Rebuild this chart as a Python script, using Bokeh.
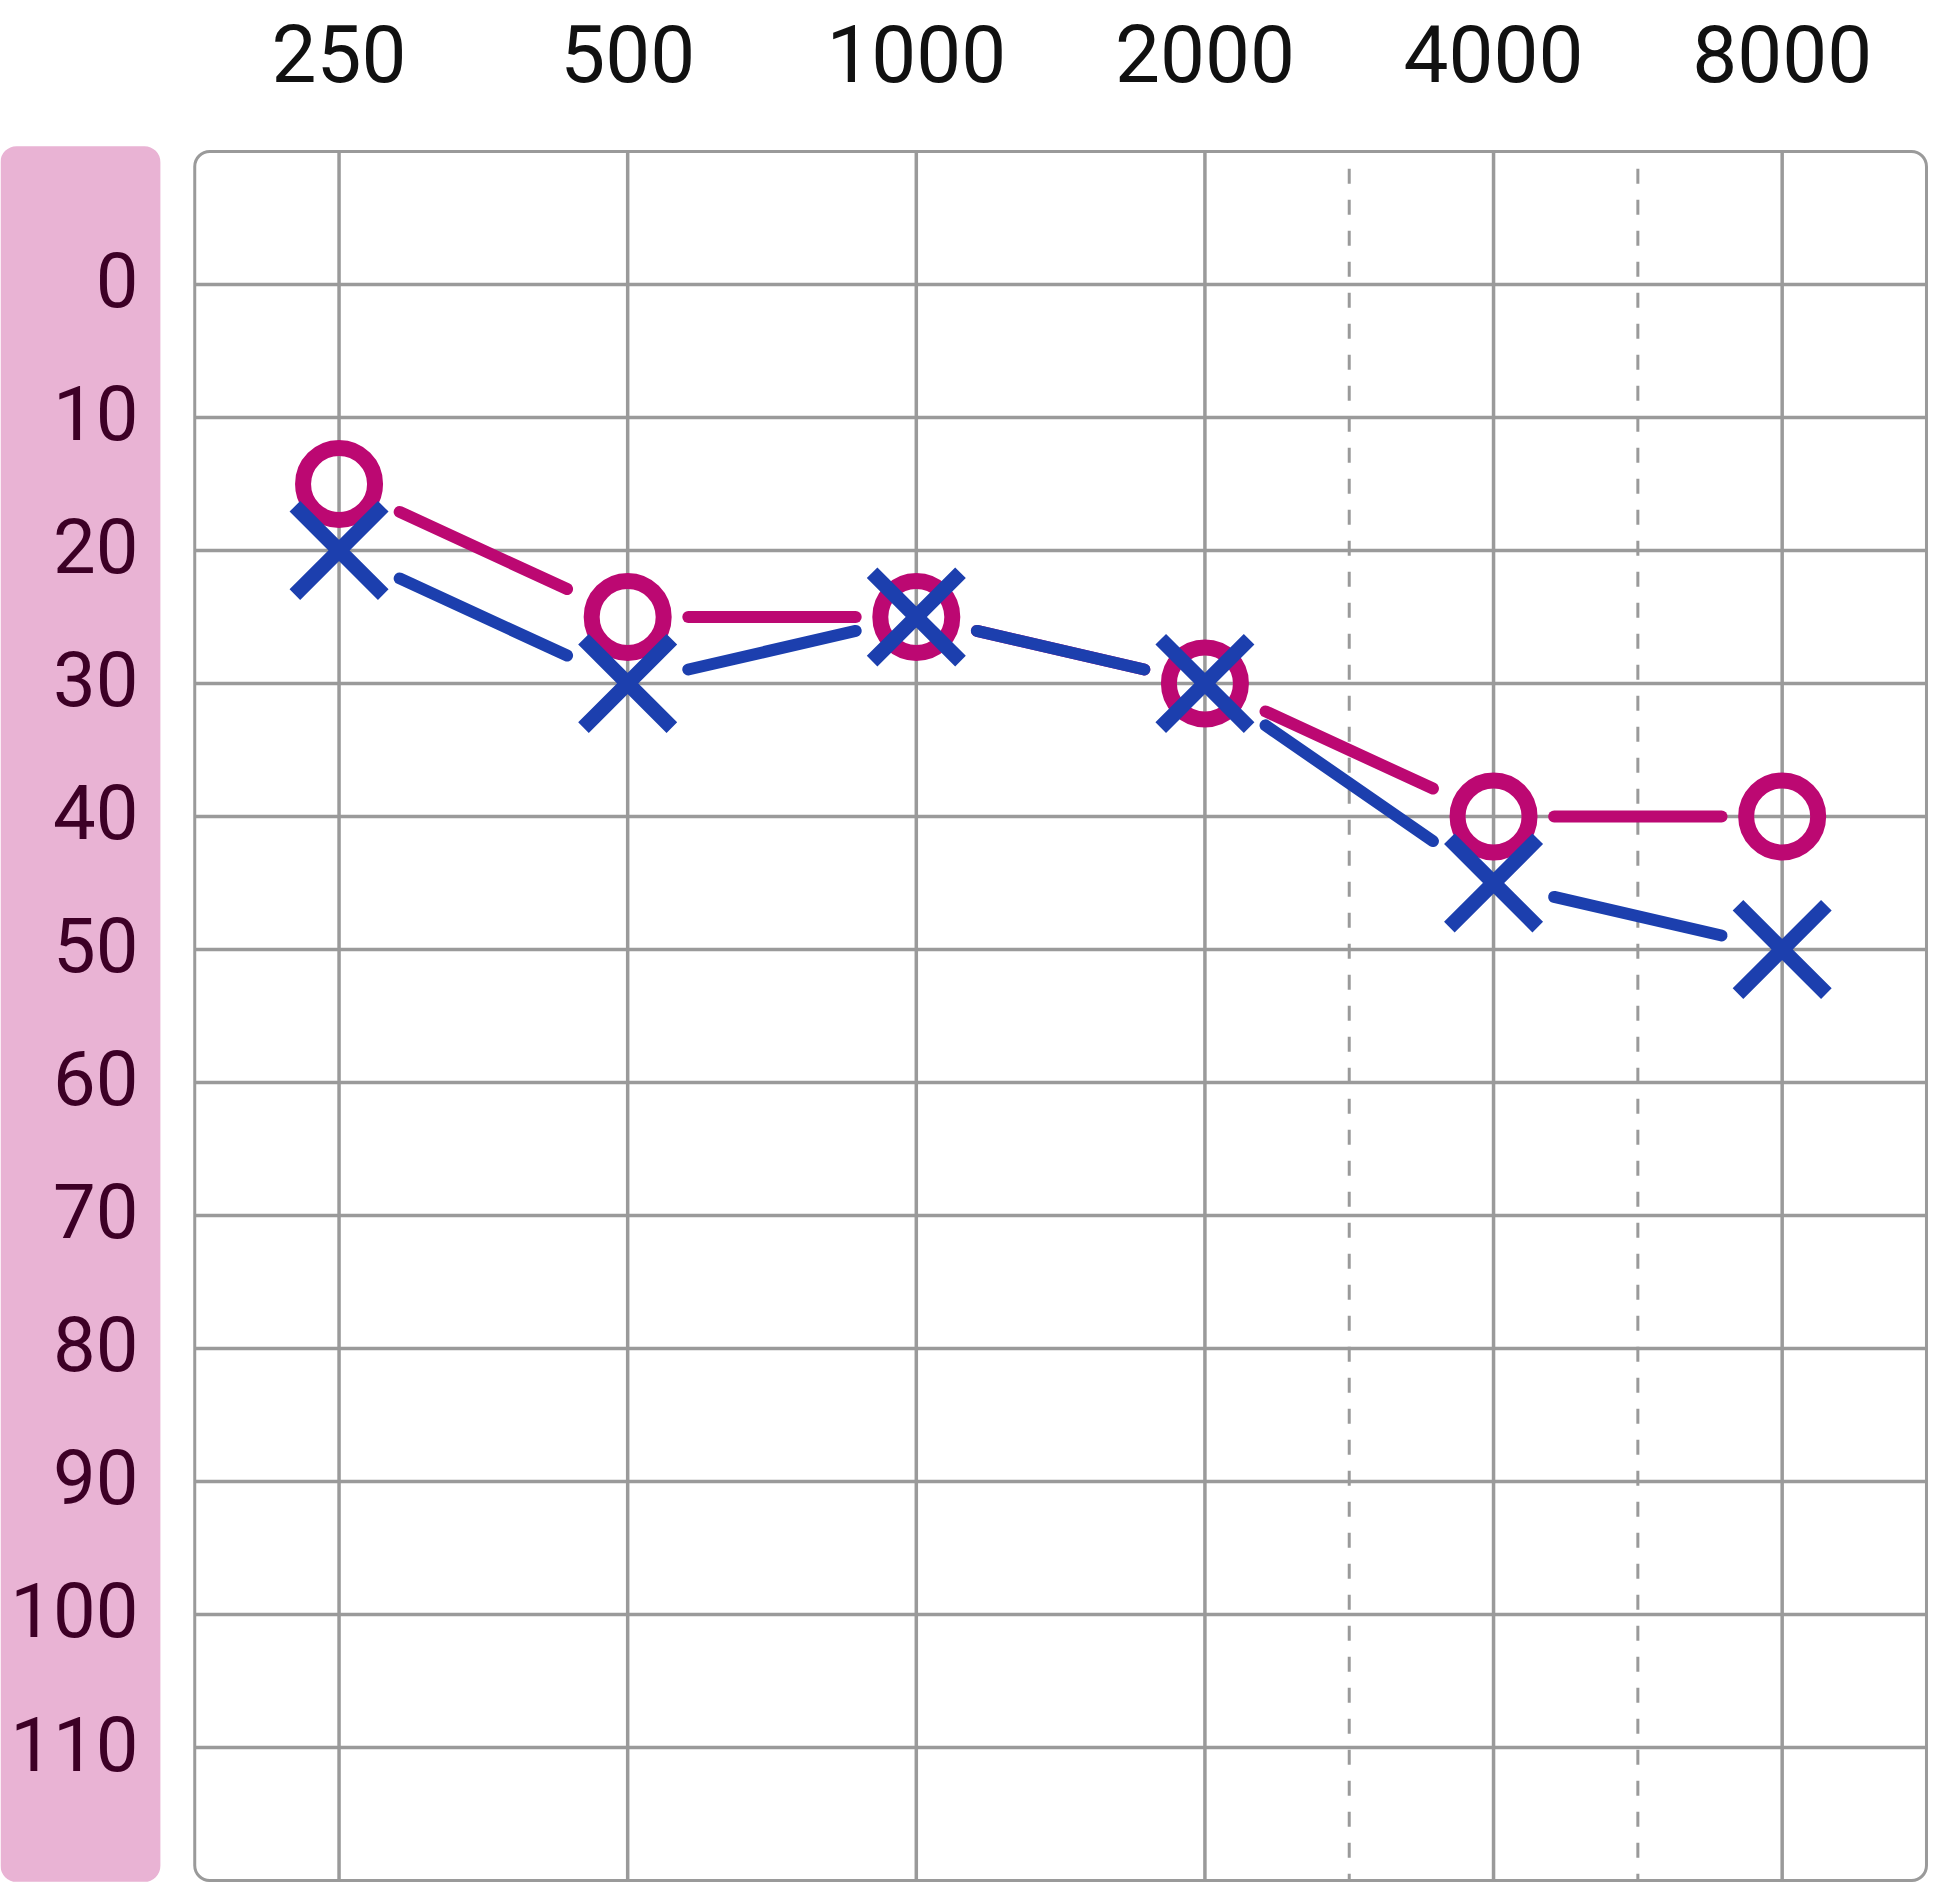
import numpy as np
from bokeh.plotting import figure
from bokeh.models import Range1d, BoxAnnotation
from bokeh.core.properties import value
from bokeh.embed import file_html
from bokeh.resources import INLINE

# ---- data ----
freq_labels = ["250", "500", "1000", "2000", "4000", "8000"]
db_ticks = [0, 10, 20, 30, 40, 50, 60, 70, 80, 90, 100, 110]
db_labels = [str(v) for v in db_ticks]
right_ear_db = [15, 25, 25, 30, 40, 40]   # O, magenta
left_ear_db = [20, 30, 25, 30, 45, 50]    # X, blue
half_octave_pos = [3.5, 4.5]              # 3000 / 6000 dashed lines

# ---- style ----
MAGENTA = "#BC0872"
BLUE = "#1C3FAE"
GRID = "#9a9a9a"
BAND = "#E9B3D4"
LABEL_DARK = "#3D0026"
FONT = value("Roboto")

x_idx = np.arange(len(freq_labels), dtype=float)
x_lo, x_hi = -0.5, len(freq_labels) - 0.5
y_top, y_bot = -10, 120

XS, XE = -1.173, 5.507
YT, YB = -21.35, 120.15

p = figure(width=1928, height=1882,
           x_range=Range1d(XS, XE), y_range=Range1d(YB, YT),
           output_backend="svg", toolbar_location=None, min_border=0)
p.axis.visible = False
p.grid.visible = False
p.outline_line_color = None
p.background_fill_color = "white"

# pink label band
p.add_layout(BoxAnnotation(left=XS, right=-0.619, top=-10.4, bottom=YB - 0.05,
                           fill_color=BAND, fill_alpha=1.0, line_color=None,
                           border_radius=16, level="underlay"))

# grid
p.segment(x0=[x_lo] * len(db_ticks), x1=[x_hi] * len(db_ticks), y0=db_ticks, y1=db_ticks,
          line_color=GRID, line_width=3.5)
p.segment(x0=x_idx, x1=x_idx, y0=[y_top] * len(x_idx), y1=[y_bot] * len(x_idx),
          line_color=GRID, line_width=3.5)
p.segment(x0=half_octave_pos, x1=half_octave_pos, y0=[-8.7] * 2, y1=[y_bot] * 2,
          line_color=GRID, line_width=3, line_dash="15 16")

# frame
p.add_layout(BoxAnnotation(left=x_lo, right=x_hi, top=y_top, bottom=y_bot,
                           fill_alpha=0.0, line_color=GRID, line_alpha=1.0, line_width=3,
                           border_radius=15, level="underlay"))

# labels
p.text(x=x_idx, y=[-16.9] * len(x_idx), text=freq_labels, text_align="center",
       text_baseline="middle", text_font=FONT, text_font_size="80px", text_color="#111111",
       y_offset=-6)
p.text(x=[-0.695] * len(db_ticks), y=db_ticks, text=db_labels, text_align="right",
       text_baseline="middle", text_font=FONT, text_font_size="76px", text_color=LABEL_DARK,
       y_offset=-4)

# connecting segments with gaps near markers
t = 0.21
def gapped(ys):
    ys = np.asarray(ys, dtype=float)
    x0 = x_idx[:-1] + t * (x_idx[1:] - x_idx[:-1])
    x1 = x_idx[:-1] + (1 - t) * (x_idx[1:] - x_idx[:-1])
    y0 = ys[:-1] + t * (ys[1:] - ys[:-1])
    y1 = ys[:-1] + (1 - t) * (ys[1:] - ys[:-1])
    return dict(x0=x0, x1=x1, y0=y0, y1=y1)

p.segment(**gapped(right_ear_db), line_color=MAGENTA, line_width=12, line_cap="round")
p.scatter(x=x_idx, y=right_ear_db, marker="circle", size=72, fill_color=None,
          line_color=MAGENTA, line_width=16)

p.segment(**gapped(left_ear_db), line_color=BLUE, line_width=12, line_cap="round")
p.scatter(x=x_idx, y=left_ear_db, marker="x", size=125, line_color=BLUE, line_width=15)

open("out.html", "w").write(file_html(p, INLINE))
